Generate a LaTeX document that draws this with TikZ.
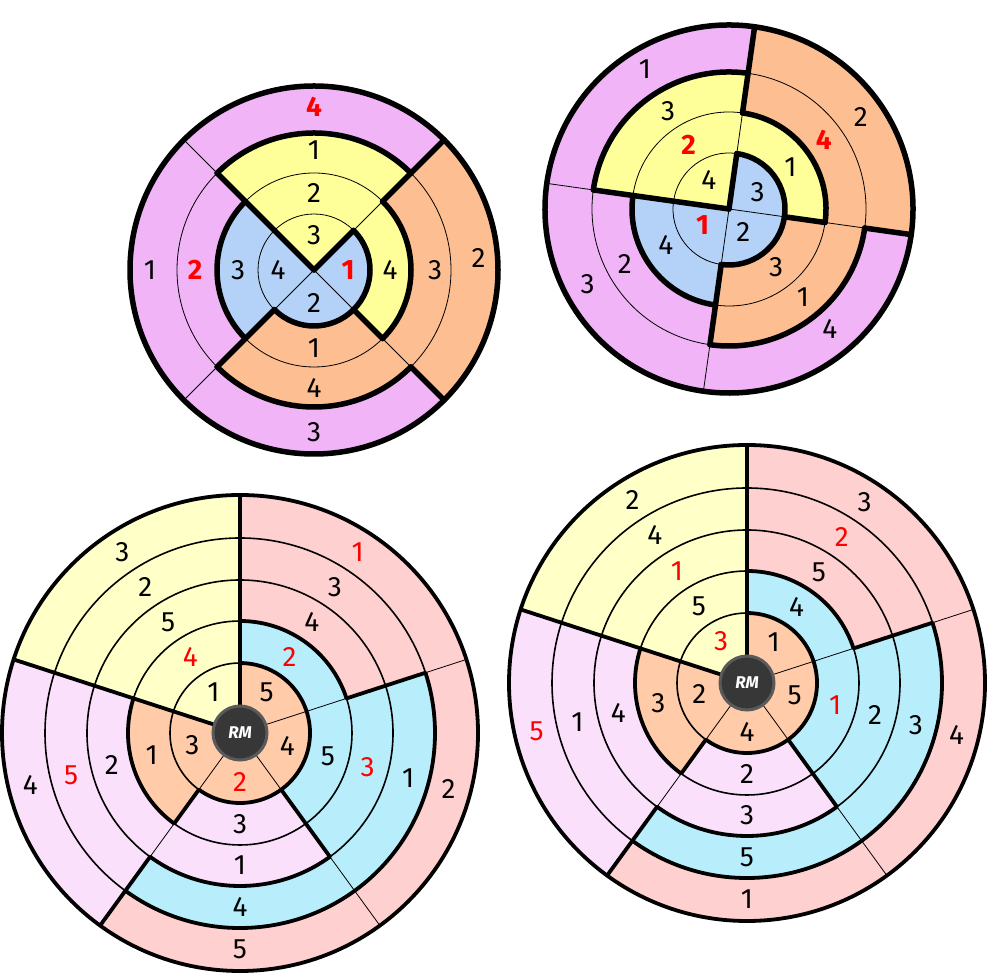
\documentclass[tikz,border=0pt]{standalone}
\usepackage{fontspec}
\setmainfont{Fira Sans}
\definecolor{pA}{RGB}{241,180,247}
\definecolor{yA}{RGB}{255,255,153}
\definecolor{oA}{RGB}{253,190,145}
\definecolor{bA}{RGB}{180,210,248}
\definecolor{yB}{RGB}{255,255,200}
\definecolor{pB}{RGB}{255,208,208}
\definecolor{bB}{RGB}{184,238,252}
\definecolor{oB}{RGB}{255,203,168}
\definecolor{lB}{RGB}{251,224,251}
\definecolor{hubc}{RGB}{55,55,55}
\definecolor{hubr}{RGB}{90,90,90}
\newcommand\sect[5]{\fill[#5] (#1:#3pt) -- (#1:#4pt) arc[start angle=#1,end angle=#2,radius=#4pt] -- (#2:#3pt) arc[start angle=#2,end angle=#1,radius=#3pt] -- cycle;}
\newcommand\arcs[4][]{\draw[#1] (#3:#2pt) arc[start angle=#3,end angle=#4,radius=#2pt];}
\newcommand\rad[4][]{\draw[#1] (#2:#3pt) -- (#2:#4pt);}
\newcommand\red[1]{\textcolor{red}{\bfseries #1}}
\newcommand\puzA{%
 \sect{45}{135}{0.1}{56}{yA}\sect{-45}{45}{0.1}{56}{bA}\sect{225}{315}{0.1}{56}{bA}\sect{135}{225}{0.1}{56}{bA}
 \sect{45}{135}{56}{97}{yA}\sect{-45}{45}{56}{97}{yA}\sect{225}{315}{56}{97}{oA}\sect{135}{225}{56}{97}{bA}
 \sect{45}{135}{97}{137}{yA}\sect{-45}{45}{97}{137}{oA}\sect{225}{315}{97}{137}{oA}\sect{135}{225}{97}{137}{pA}
 \sect{45}{135}{137}{184}{pA}\sect{-45}{45}{137}{184}{oA}\sect{225}{315}{137}{184}{pA}\sect{135}{225}{137}{184}{pA}
 \begin{scope}[line width=0.8pt]
 \draw (0,0) circle[radius=56pt] circle[radius=97pt] circle[radius=137pt];
 \foreach \a in {45,135,225,315}{\rad{\a}{0}{184}}
 \end{scope}
 \begin{scope}[line width=5.5pt,line cap=round]
 \arcs{56}{-135}{45}\arcs{97}{-45}{45}\arcs{97}{135}{225}\arcs{137}{45}{135}\arcs{137}{225}{315}
 \draw (0,0) circle[radius=184pt];
 \rad{45}{0}{56}\rad{45}{97}{184}\rad{135}{0}{137}\rad{225}{56}{137}\rad{315}{56}{97}\rad{315}{137}{184}
 \end{scope}}
\newcommand\puzB{%
 \sect{18}{90}{0.1}{70}{oB}\sect{90}{162}{0.1}{70}{yB}\sect{162}{234}{0.1}{70}{oB}\sect{234}{306}{0.1}{70}{oB}\sect{306}{378}{0.1}{70}{oB}
 \sect{18}{90}{70}{112}{bB}\sect{90}{162}{70}{112}{yB}\sect{162}{234}{70}{112}{oB}\sect{234}{306}{70}{112}{lB}\sect{306}{378}{70}{112}{bB}
 \sect{18}{90}{112}{153}{pB}\sect{90}{162}{112}{153}{yB}\sect{162}{234}{112}{153}{lB}\sect{234}{306}{112}{153}{lB}\sect{306}{378}{112}{153}{bB}
 \sect{18}{90}{153}{195}{pB}\sect{90}{162}{153}{195}{yB}\sect{162}{234}{153}{195}{lB}\sect{234}{306}{153}{195}{bB}\sect{306}{378}{153}{195}{bB}
 \sect{18}{90}{195}{238}{pB}\sect{90}{162}{195}{238}{yB}\sect{162}{234}{195}{238}{lB}\sect{234}{306}{195}{238}{pB}\sect{306}{378}{195}{238}{pB}
 \draw[line width=1.6pt] (0,0) circle[radius=70pt] circle[radius=112pt] circle[radius=153pt] circle[radius=195pt];
 \foreach \a in {18,90,162,234,306}{\rad[line width=0.8pt]{\a}{28}{238}}
 \begin{scope}[line width=3.8pt,line cap=round]
 \arcs{70}{-126}{90}\arcs{112}{18}{90}\arcs{112}{162}{234}\arcs{153}{234}{306}\arcs{195}{234}{378}
 \draw (0,0) circle[radius=238pt];
 \rad{18}{112}{195}\rad{90}{28}{238}\rad{162}{28}{238}\rad{234}{70}{112}\rad{234}{153}{238}\rad{306}{70}{153}
 \end{scope}
 \fill[hubc] (0,0) circle[radius=27pt];
 \draw[hubr,line width=3pt] (0,0) circle[radius=27pt];
 \node[text=white,font=\fontsize{17}{17}\selectfont\bfseries\itshape] (hub) at (0,0) {RM};}
\begin{document}
\begin{tikzpicture}[x=1pt,y=1pt,lbl/.style={font=\fontsize{28}{28}\selectfont,inner sep=0pt}]
\useasboundingbox (0,0) rectangle (1004,974);
\fill[white] (0,0) rectangle (1004,974);
% puzzle 1
\begin{scope}[shift={(314,704)}]
 \puzA
 \foreach \a/\r/\t in {90/35/3,180/36/4,270/33/2,0/34/{\red{1}},
   90/77/2,180/76/3,270/78/1,0/76/4,
   90/120/1,180/119/{\red{2}},270/118/4,0/121/3,
   90/163/{\red{4}},180/164/1,270/162/3,4/165/2}
  {\node[lbl] at (\a:\r pt) {\t};}
\end{scope}
% puzzle 2
\begin{scope}[shift={(729,765)}]
 \begin{scope}[rotate=37]\puzA\end{scope}
 \foreach \a/\r/\t in {30/33/3,-58/27/2,212/31/{\red{1}},125/35/4,
   34/74/1,-51/75/3,210/73/4,122/76/{\red{2}},
   36/117/{\red{4}},-50/115/1,208/118/2,122/115/3,
   35/161/2,-50/157/4,208/160/3,121/163/1}
  {\node[lbl] at (\a:\r pt) {\t};}
\end{scope}
% puzzle 3
\begin{scope}[shift={(240,241)}]
 \puzB
 \foreach \a/\r/\t in {57/49/5,57/91/{\textcolor{red}{2}},57/132/4,57/174/3,57/216/{\textcolor{red}{1}},
   123/49/1,123/91/{\textcolor{red}{4}},123/132/5,123/174/2,123/216/3,
   194/49/3,194/91/1,194/132/2,194/174/{\textcolor{red}{5}},194/216/4,
   270/49/{\textcolor{red}{2}},270/91/3,270/132/1,270/174/4,270/216/5,
   -15/49/4,-15/91/5,-15/132/{\textcolor{red}{3}},-15/174/1,-15/216/2}
  {\node[lbl] at (\a:\r pt) {\t};}
\end{scope}
% puzzle 4
\begin{scope}[shift={(747,291)}]
 \puzB
 \foreach \a/\r/\t in {57/49/1,57/91/4,57/132/5,57/174/{\textcolor{red}{2}},57/216/3,
   122/49/{\textcolor{red}{3}},122/91/5,122/132/{\textcolor{red}{1}},122/174/4,122/216/2,
   193/49/2,193/91/3,193/132/4,193/174/1,193/216/{\textcolor{red}{5}},
   270/49/4,270/91/2,270/132/3,270/174/5,270/216/1,
   -14/49/5,-14/91/{\textcolor{red}{1}},-14/132/2,-14/174/3,-14/216/4}
  {\node[lbl] at (\a:\r pt) {\t};}
\end{scope}
\end{tikzpicture}
\end{document}
